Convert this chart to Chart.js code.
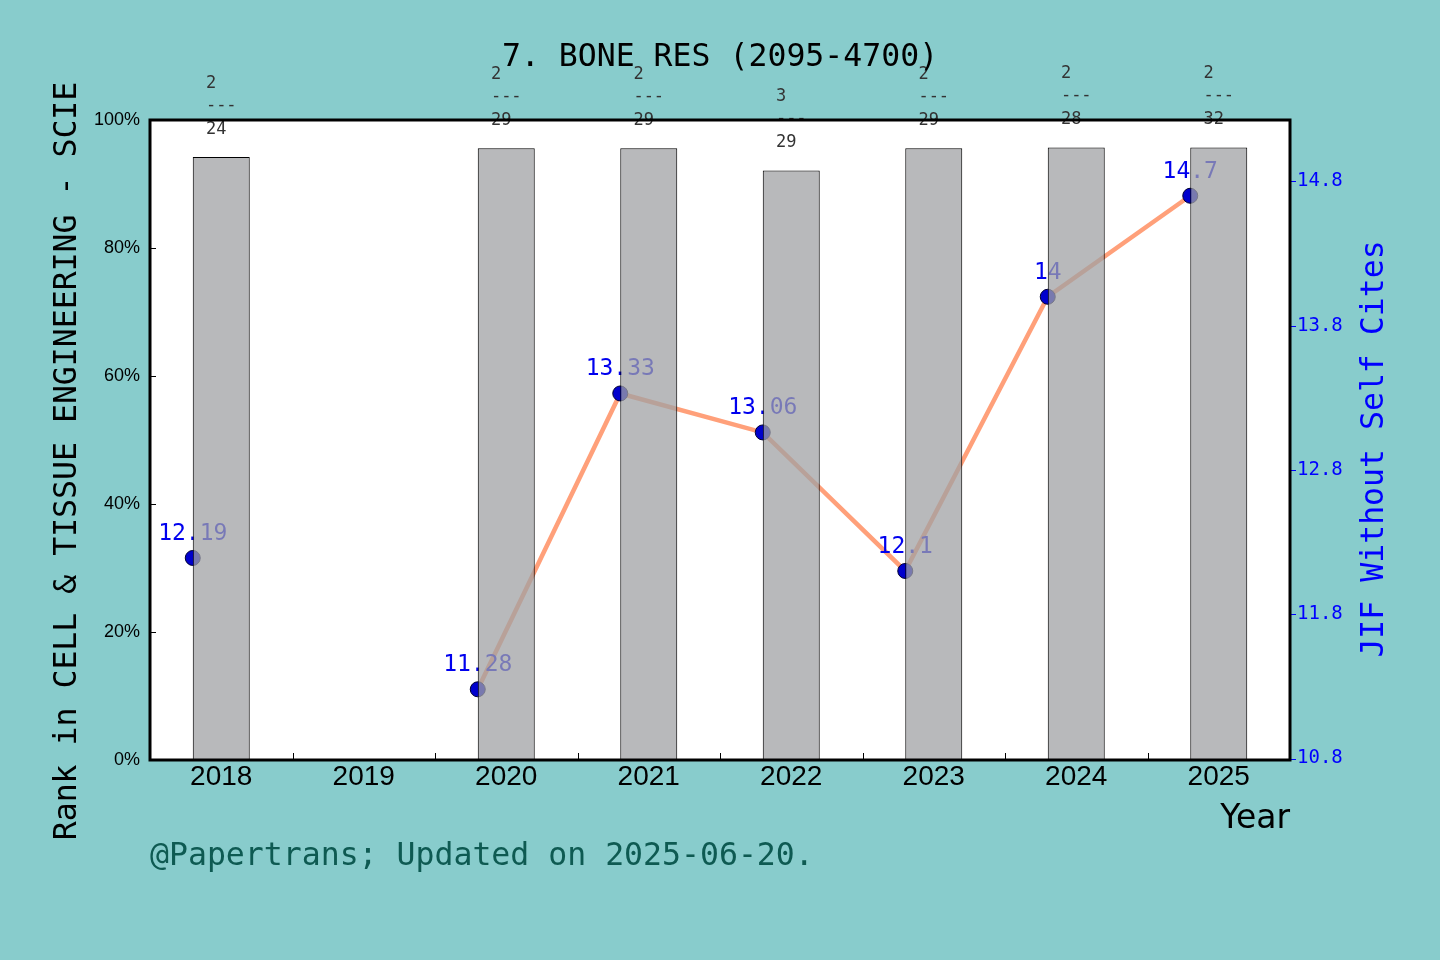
<!DOCTYPE html>
<html><head><meta charset="utf-8">
<script src="https://cdn.jsdelivr.net/npm/chart.js@4.4.1/dist/chart.umd.min.js"></script>
<style>html,body{margin:0;padding:0;background:#88CCCC;}canvas{display:block;}</style>
</head><body>
<canvas id="c" width="1440" height="960"></canvas>
<script>
const years = ['2018','2019','2020','2021','2022','2023','2024','2025'];
const rankPercent = [94.2, null, 95.6, 95.6, 92.1, 95.6, 95.7, 95.7];
const rankNum = [2, null, 2, 2, 3, 2, 2, 2];
const rankTotal = [24, null, 29, 29, 29, 29, 28, 32];
const jifNoSelf = [12.19, null, 11.28, 13.33, 13.06, 12.1, 14, 14.7];
const leftTicks = [0, 20, 40, 60, 80, 100];
const rightTicks = [10.8, 11.8, 12.8, 13.8, 14.8];
const titleText = '7. BONE RES (2095-4700)';
const leftTitle = 'Rank in CELL & TISSUE ENGINEERING - SCIE';
const rightTitle = 'JIF Without Self Cites';
const xTitle = 'Year';
const footerText = '@Papertrans; Updated on 2025-06-20.';

const MONO = '"DejaVu Sans Mono", "Liberation Mono", monospace';
const LINE_SHIFT = -0.2; // line points sit at the left edge of each bar

const linePoints = jifNoSelf.map((v, i) => ({ x: i + LINE_SHIFT, y: v }));

const decor = {
  id: 'decor',
  beforeDraw(chart) {
    const { ctx, chartArea: a } = chart;
    ctx.save();
    ctx.fillStyle = '#88CCCC';
    ctx.fillRect(0, 0, chart.width, chart.height);
    ctx.fillStyle = '#FFFFFF';
    ctx.fillRect(a.left, a.top, a.right - a.left, a.bottom - a.top);
    ctx.restore();
  },
  afterDatasetDraw(chart, args) {
    if (args.index !== 1) return;
    const { ctx } = chart;
    const meta = chart.getDatasetMeta(1);
    ctx.save();
    ctx.font = '23px ' + MONO;
    ctx.fillStyle = '#0000EE';
    ctx.textAlign = 'center';
    ctx.textBaseline = 'middle';
    meta.data.forEach((pt, i) => {
      const v = jifNoSelf[i];
      if (v === null || v === undefined) return;
      ctx.fillText(String(v), pt.x, pt.y - 24);
    });
    ctx.restore();
  },
  afterDatasetsDraw(chart) {
    const { ctx, chartArea: a, scales } = chart;
    const xs = scales.x, ys = scales.y, y2 = scales.y2;
    ctx.save();
    // rank labels
    ctx.font = '17px ' + MONO;
    ctx.fillStyle = '#333333';
    ctx.textBaseline = 'middle';
    ctx.textAlign = 'left';
    const dashW = ctx.measureText('---').width;
    rankPercent.forEach((p, i) => {
      if (p === null) return;
      const cx = xs.getPixelForValue(i);
      const top = ys.getPixelForValue(p);
      const left = cx - dashW / 2;
      ctx.fillText(String(rankNum[i]), left, top - 74);
      ctx.fillText('---', left, top - 52);
      ctx.fillText(String(rankTotal[i]), left, top - 28);
    });
    // tick marks
    ctx.lineWidth = 1;
    ctx.strokeStyle = '#000';
    ctx.beginPath();
    leftTicks.forEach(v => {
      const y = Math.round(ys.getPixelForValue(v)) + 0.5;
      ctx.moveTo(a.left, y); ctx.lineTo(a.left + 6, y);
    });
    for (let i = 1; i < years.length; i++) {
      const x = Math.round((xs.getPixelForValue(i - 1) + xs.getPixelForValue(i)) / 2) + 0.5;
      ctx.moveTo(x, a.bottom); ctx.lineTo(x, a.bottom - 7);
    }
    ctx.stroke();
    ctx.strokeStyle = '#0000FF';
    ctx.beginPath();
    rightTicks.forEach(v => {
      const y = Math.round(y2.getPixelForValue(v)) + 0.5;
      ctx.moveTo(a.right, y); ctx.lineTo(a.right + 6, y);
    });
    ctx.stroke();
    // frame
    ctx.lineWidth = 3;
    ctx.strokeStyle = '#000';
    ctx.strokeRect(a.left, a.top, a.right - a.left, a.bottom - a.top);
    // title
    ctx.fillStyle = '#000';
    ctx.font = '31.5px ' + MONO;
    ctx.textAlign = 'center';
    ctx.textBaseline = 'middle';
    ctx.fillText(titleText, (a.left + a.right) / 2, 58);
    // left title
    ctx.save();
    ctx.translate(68, 461);
    ctx.rotate(-Math.PI / 2);
    ctx.fillText(leftTitle, 0, 0);
    ctx.restore();
    // right title
    ctx.save();
    ctx.translate(1375, 449);
    ctx.rotate(-Math.PI / 2);
    ctx.fillStyle = '#0000FF';
    ctx.fillText(rightTitle, 0, 0);
    ctx.restore();
    // x title
    ctx.font = '33px "DejaVu Sans", sans-serif';
    ctx.textAlign = 'right';
    ctx.fillText(xTitle, a.right, 819);
    // footer
    ctx.font = '31.5px ' + MONO;
    ctx.textAlign = 'left';
    ctx.fillStyle = '#0E5A52';
    ctx.fillText(footerText, a.left, 857);
    ctx.restore();
  }
};

new Chart(document.getElementById('c'), {
  data: {
    labels: years,
    datasets: [
      {
        type: 'bar',
        data: rankPercent,
        xAxisID: 'x',
        yAxisID: 'y',
        backgroundColor: 'rgba(160,161,164,0.75)',
        borderColor: '#000000',
        borderWidth: 1,
        barPercentage: 0.4,
        categoryPercentage: 1.0,
        grouped: false,
        order: 0
      },
      {
        type: 'line',
        data: linePoints,
        xAxisID: 'xl',
        yAxisID: 'y2',
        borderColor: '#FFA07A',
        borderWidth: 4.5,
        spanGaps: false,
        pointRadius: 7.5,
        pointBackgroundColor: '#0000CD',
        pointBorderColor: '#000033',
        pointBorderWidth: 1,
        tension: 0,
        order: 1
      }
    ]
  },
  options: {
    responsive: false,
    animation: false,
    devicePixelRatio: 1,
    layout: { padding: { top: 120, left: 0, right: 0, bottom: 0 } },
    plugins: { legend: { display: false }, title: { display: false }, tooltip: { enabled: false } },
    scales: {
      x: {
        type: 'category',
        position: 'bottom',
        offset: true,
        grid: { display: false, drawTicks: false },
        border: { display: false },
        ticks: { font: { family: '"Liberation Sans", sans-serif', size: 28 }, color: '#000', padding: 0, autoSkip: false, maxRotation: 0 },
        afterFit(s) { s.height = 200; }
      },
      xl: {
        type: 'linear',
        display: false,
        min: -0.5,
        max: years.length - 0.5
      },
      y: {
        type: 'linear',
        position: 'left',
        min: 0,
        max: 100,
        grid: { display: false, drawTicks: false },
        border: { display: false },
        afterBuildTicks(s) { s.ticks = leftTicks.map(v => ({ value: v })); },
        ticks: { callback: v => v + '%', font: { family: '"Liberation Sans", sans-serif', size: 18 }, color: '#000', padding: 10 },
        afterFit(s) { s.width = 150; }
      },
      y2: {
        type: 'linear',
        position: 'right',
        min: 10.79,
        max: 15.225,
        grid: { display: false, drawTicks: false },
        border: { display: false },
        afterBuildTicks(s) { s.ticks = rightTicks.map(v => ({ value: v })); },
        ticks: { callback: v => Number(v).toFixed(1), font: { family: MONO, size: 19 }, color: '#0000FF', padding: 7 },
        afterFit(s) { s.width = 150; }
      }
    }
  },
  plugins: [decor]
});
</script>
</body></html>
